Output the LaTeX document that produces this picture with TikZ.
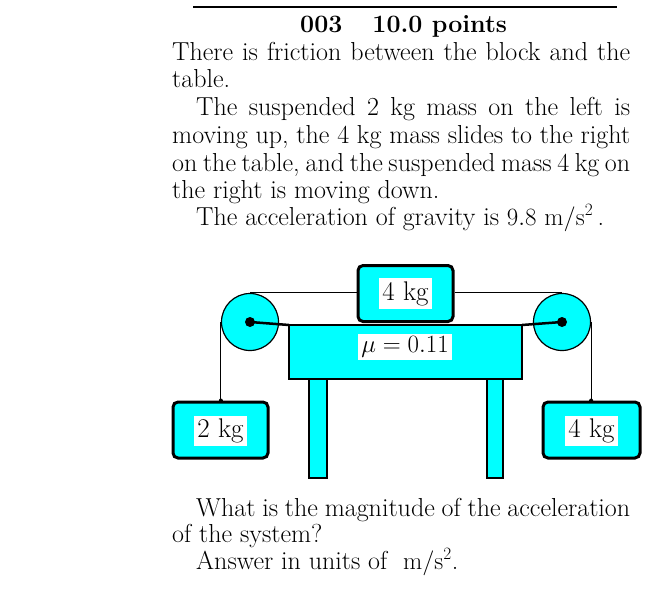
\documentclass[tikz,border=0pt]{standalone}
\usepackage{amsmath}
\definecolor{aqua}{RGB}{0,255,255}
\newcommand{\jline}[2]{\hbox to #1{#2}}
\begin{document}
\begin{tikzpicture}[x=1pt,y=-1pt,
  txt/.style={anchor=base west,inner sep=0pt,font=\fontsize{26}{30}\selectfont},
  lbl/.style={fill=white,inner sep=3pt,font=\fontsize{27}{30}\selectfont},
  box/.style={draw,line width=3pt,fill=aqua,rounded corners=5pt},
  part/.style={draw,line width=2.5pt,fill=aqua},
  rope/.style={line width=1pt},
  axle/.style={line width=2.5pt}]
\useasboundingbox (0,0) rectangle (671,591);
\draw[line width=1.2pt] (193,7) -- (617,7);
\node[txt,font=\fontsize{25}{30}\selectfont\bfseries] (h) at (300,33) {003\hspace{30pt}10.0 points};
\node[txt] (l1) at (172,61) {\jline{458pt}{There is friction between the block and the}};
\node[txt] (l2) at (172,88) {table.};
\node[txt] (l3) at (196,116) {\jline{434pt}{The suspended 2 kg mass on the left is}};
\node[txt] (l4) at (172,143) {\jline{458pt}{moving up, the 4 kg mass slides to the right}};
\node[txt] (l5) at (172,171) {\jline{458pt}{on the table, and the suspended mass 4 kg on}};
\node[txt] (l6) at (172,198) {the right is moving down.};
\node[txt] (l7) at (196,225) {The acceleration of gravity is $9.8\ \mathrm{m/s^2}$\,.};
\node[txt] (q1) at (196,516) {\jline{434pt}{What is the magnitude of the acceleration}};
\node[txt] (q2) at (172,542) {of the system?};
\node[txt] (q3) at (196,569) {Answer in units of \ $\mathrm{m/s^2}$.};
% table
\draw[part] (309,379) rectangle (327,478);
\draw[part] (487,379) rectangle (503,478);
\draw[part] (289,325) rectangle (522,379);
\node[lbl] (mu) at (405,347) {$\mu = 0.11$};
% pulleys
\node[circle,draw,line width=1.2pt,fill=aqua,minimum size=57pt,inner sep=0pt] (pl) at (250,322) {};
\node[circle,draw,line width=1.2pt,fill=aqua,minimum size=57pt,inner sep=0pt] (pr) at (562,322) {};
\coordinate (tl) at (289,325);
\coordinate (tr) at (522,325);
\draw[axle] (pl.center) -- (tl);
\draw[axle] (pr.center) -- (tr);
\fill (pl.center) circle (5pt);
\fill (pr.center) circle (5pt);
% blocks
\node[box,minimum width=95pt,minimum height=56pt] (bt) at (405.5,293.5) {};
\node[lbl] at (bt) {4 kg};
\node[box,minimum width=95pt,minimum height=56pt] (bl) at (220.5,430) {};
\node[lbl] at ([yshift=-1pt]bl) {2 kg};
\node[box,minimum width=97pt,minimum height=56pt] (br) at (591.5,430) {};
\node[lbl] at ([yshift=-1pt]br) {4 kg};
% ropes
\draw[rope] (bt.west |- pl.north) -- (pl.north);
\draw[rope] (bt.east |- pr.north) -- (pr.north);
\draw[rope] (pl.west) -- (pl.west |- bl.north);
\draw[rope] (pr.east) -- (pr.east |- br.north);
\fill (pl.west |- bl.north) circle (2pt);
\fill (pr.east |- br.north) circle (2pt);
\end{tikzpicture}
\end{document}
